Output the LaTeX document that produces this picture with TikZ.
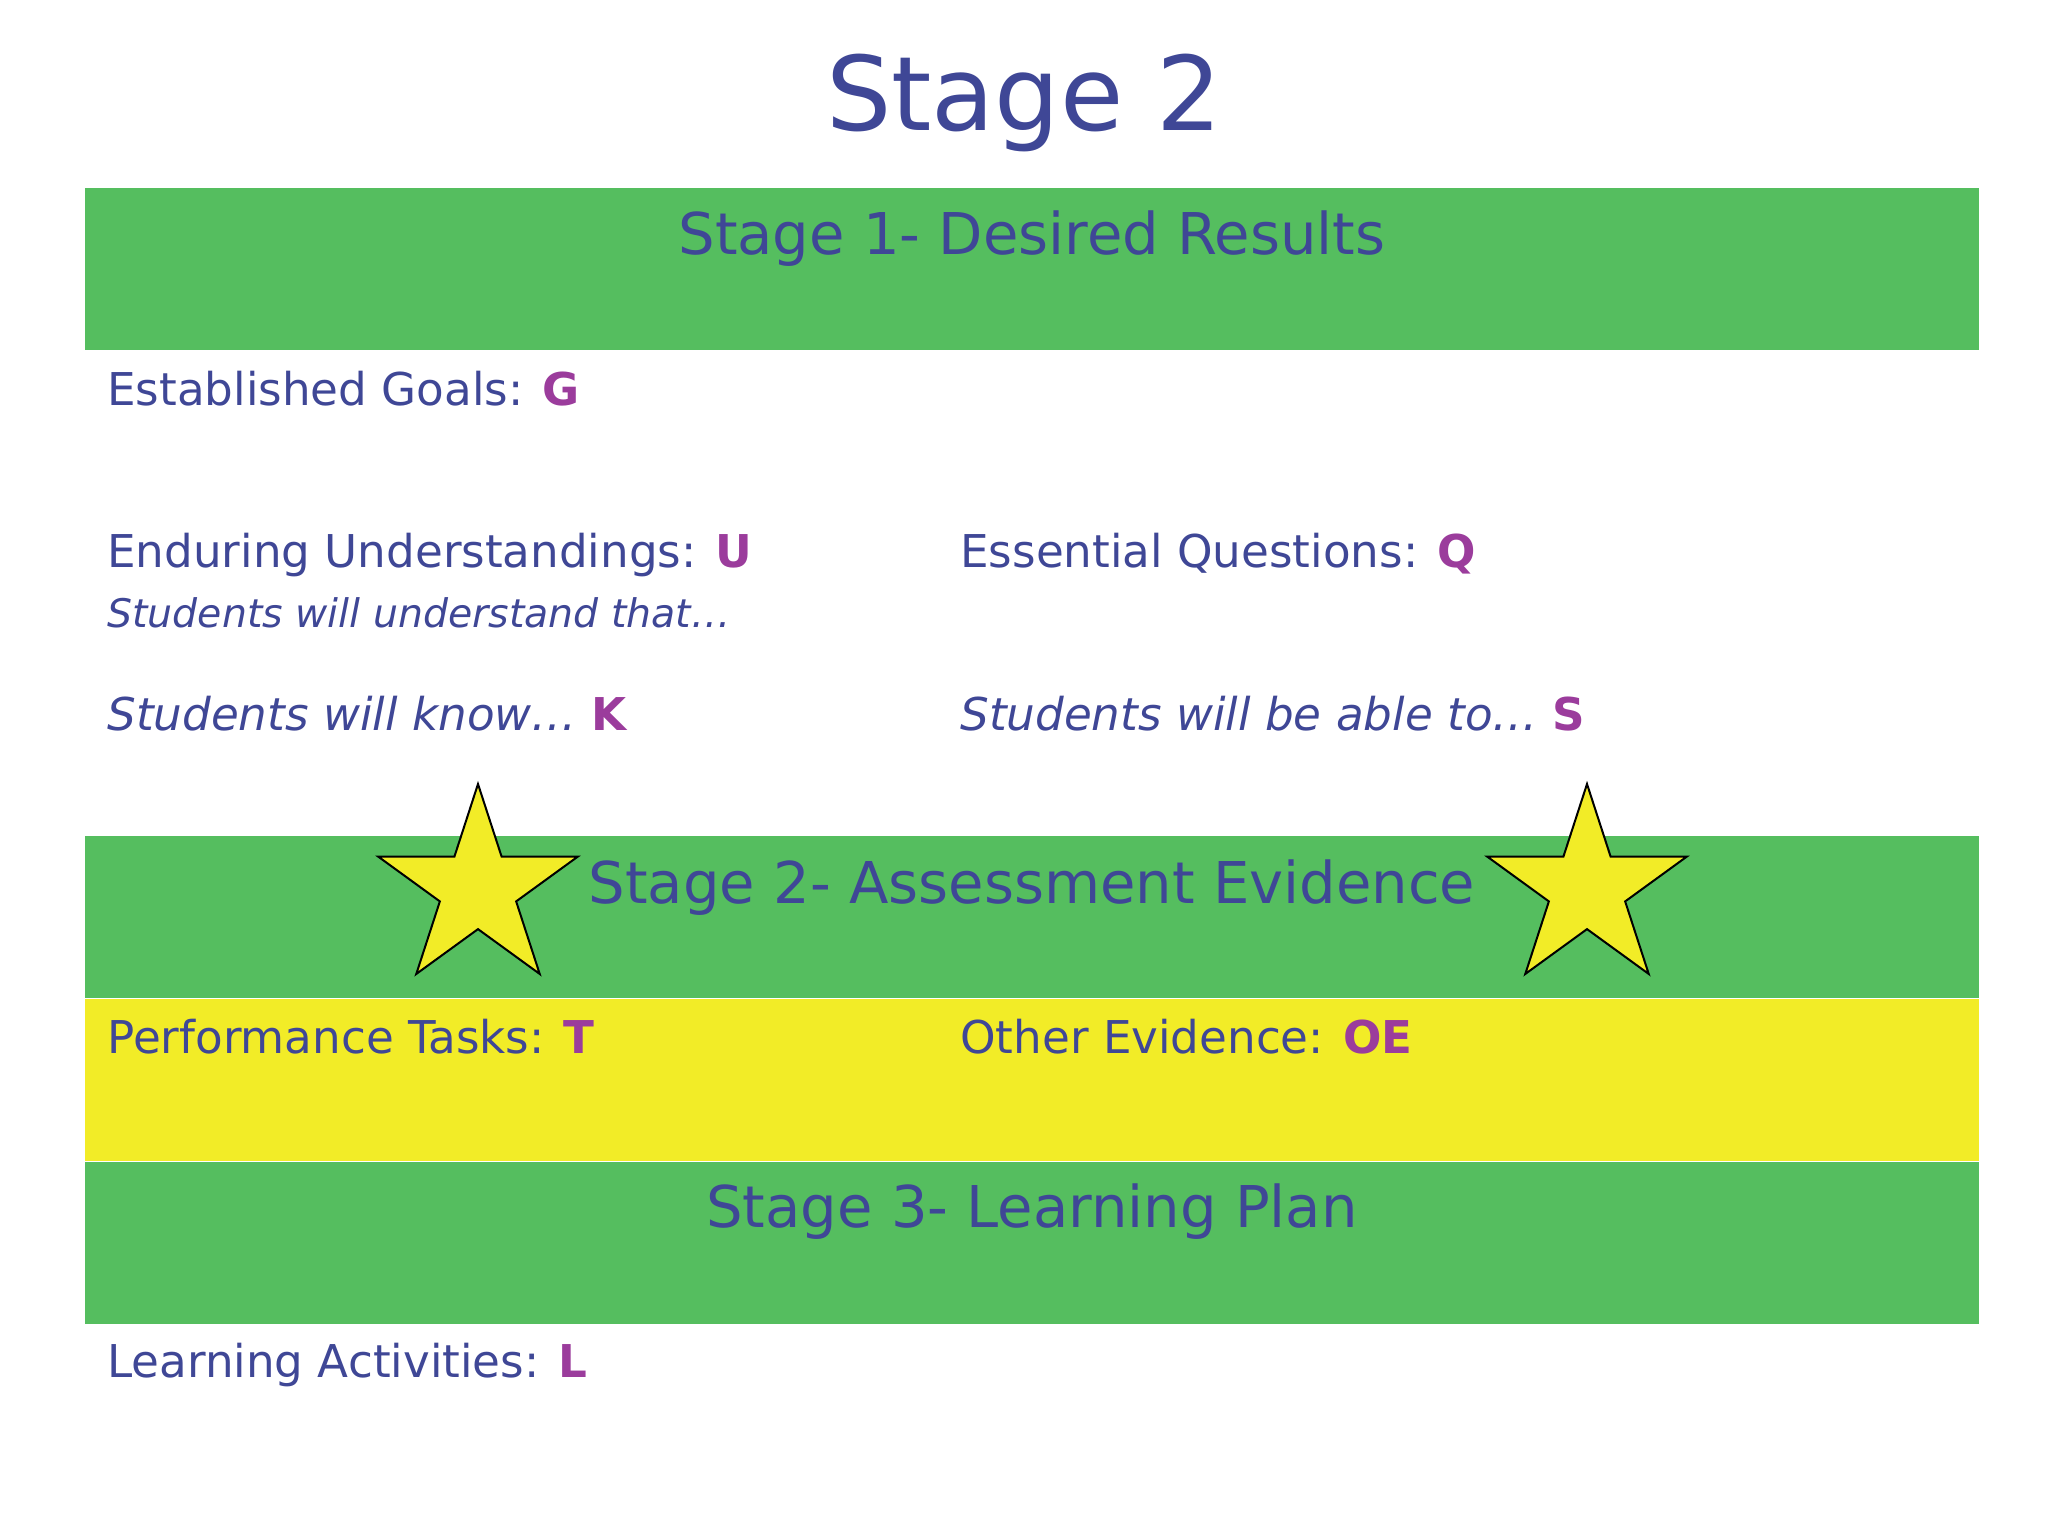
\documentclass[tikz,border=0pt]{standalone}
\usepackage{fontspec}
\setmainfont{DejaVu Sans}
\usetikzlibrary{positioning, shapes.geometric}

\definecolor{bandgreen}{RGB}{85,190,95}
\definecolor{bandyellow}{RGB}{242,236,39}
\definecolor{textblue}{RGB}{63,71,150}
\definecolor{letterpurple}{RGB}{155,60,156}

\newcommand{\keyletter}[1]{\textbf{\color{letterpurple}#1}}

\tikzset{
    band/.style={anchor=north west, minimum width=947pt, minimum height=81pt, inner sep=0pt},
    bandtitle/.style={anchor=base, font=\fontsize{28.8}{34}\selectfont},
    entry/.style={anchor=base west, font=\fontsize{22.6}{27}\selectfont},
    subentry/.style={anchor=base west, font=\fontsize{19.7}{24}\selectfont\itshape},
    bigstar/.style={star, star points=5, star point ratio=2.618, minimum size=105pt,
                    inner sep=0pt, fill=bandyellow, draw=black, line width=1pt},
}

\begin{document}
\begin{tikzpicture}[x=0.5pt, y=-0.5pt, every node/.style={text=textblue, inner sep=0pt}]
    \useasboundingbox[fill=white] (0,0) rectangle (2048,1536);

    % title
    \node[anchor=base, font=\fontsize{51.5}{60}\selectfont] (Title) at (1024,131) {Stage 2};

    % stage 1
    \node[band, fill=bandgreen]                   (Band 1) at (85,188) {};
    \node[bandtitle]                              (Stage 1) at (1032,254) {Stage 1- Desired Results};
    \node[entry]      (Goals)      at (107,405) {Established Goals: \keyletter{G}};
    \node[entry]      (Enduring)   at (107,567) {Enduring Understandings: \keyletter{U}};
    \node[subentry]   (Understand) at (107,627) {Students will understand that…};
    \node[entry]      (Know)       at (107,730) {\itshape Students will know… \upshape\keyletter{K}};
    \node[entry]      (Questions)  at (960,567) {Essential Questions: \keyletter{Q}};
    \node[entry]      (Able)       at (960,730) {\itshape Students will be able to… \upshape\keyletter{S}};

    % stage 2
    \node[band, fill=bandgreen]                   (Band 2) at (85,836) {};
    \node[band, fill=bandyellow, below=0pt of Band 2] (Band Y) {};
    \node[bandtitle]                              (Stage 2) at (1032,903) {Stage 2- Assessment Evidence};
    \node[bigstar] (Star L) at (478,889) {};
    \node[bigstar] (Star R) at (1587,889) {};
    \node[entry]      (Tasks)      at (107,1053) {Performance Tasks: \keyletter{T}};
    \node[entry]      (Evidence)   at (960,1053) {Other Evidence: \keyletter{OE}};

    % stage 3
    \node[band, fill=bandgreen, below=0pt of Band Y] (Band 3) {};
    \node[bandtitle]                              (Stage 3) at (1032,1227) {Stage 3- Learning Plan};
    \node[entry]      (Activities) at (107,1377) {Learning Activities: \keyletter{L}};
\end{tikzpicture}
\end{document}
